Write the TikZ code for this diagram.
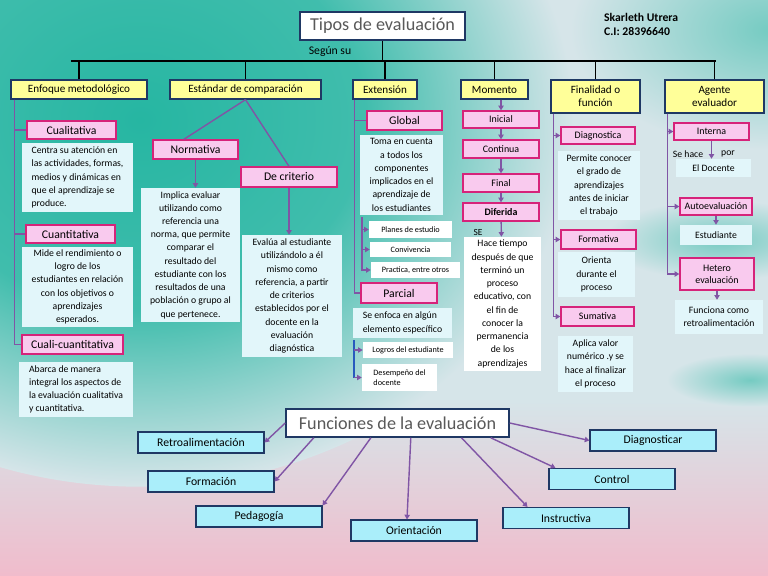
\documentclass[tikz,border=0pt]{standalone}
\usepackage{fontspec}
\setmainfont{Carlito}
\usetikzlibrary{arrows.meta}
\definecolor{navy}{RGB}{31,56,100}
\definecolor{lemon}{RGB}{255,255,153}
\definecolor{rose}{RGB}{214,35,122}
\definecolor{blush}{RGB}{249,202,238}
\definecolor{mist}{RGB}{226,246,250}
\definecolor{sky}{RGB}{170,238,250}
\definecolor{plum}{RGB}{128,85,165}
\definecolor{cobalt}{RGB}{40,90,190}
\definecolor{bgbase}{RGB}{214,229,233}
\definecolor{bgteal}{RGB}{38,182,162}
\definecolor{bgpink}{RGB}{240,188,204}
\pgfdeclareradialshading{tealblob}{\pgfpointorigin}{color(0bp)=(bgteal); color(13bp)=(bgteal!85!bgbase);
  color(25bp)=(bgbase); color(50bp)=(bgbase)}
\pgfdeclareradialshading{tealhaze}{\pgfpointorigin}{color(0bp)=(bgteal!55!bgbase);
  color(25bp)=(bgbase); color(50bp)=(bgbase)}
\tikzset{
  >={Triangle[length=4pt,width=4.5pt]},
  sz/.style 2 args={minimum width=#1*0.03cm,minimum height=#2*0.03cm,inner sep=1pt},
  headbox/.style={draw=navy,fill=lemon,line width=1.1pt,align=center,font=\fontsize{9.5}{11}\selectfont},
  kindbox/.style={draw=rose,fill=blush,line width=1.1pt,align=center,font=\fontsize{10}{11}\selectfont},
  kindbox small/.style={kindbox,font=\fontsize{8.5}{10}\selectfont},
  notebox/.style={fill=mist,align=center,font=\fontsize{8.3}{11.3}\selectfont},
  chipbox/.style={fill=white,align=left,font=\fontsize{7}{9}\selectfont},
  funcbox/.style={draw=navy,fill=sky,line width=0.9pt,font=\fontsize{10}{12}\selectfont,
    minimum width=126*0.03cm,minimum height=21*0.03cm},
  titlebox/.style={draw=navy,fill=white,line width=1.3pt,text=black!65,font=\fontsize{15.5}{18}\selectfont},
  bar/.style={line width=1.4pt,black},
  link/.style={plum,line width=1.2pt},
  flow/.style={link,->},
}
\begin{document}
\begin{tikzpicture}[x=0.03cm,y=-0.03cm]
  % background
  \begin{scope}
    \clip (0,0) rectangle (768,575);
    \fill[bgbase] (0,0) rectangle (768,575);
    \shade[top color=bgbase,bottom color=bgpink] (0,400) rectangle (768,575);
    \shade[shading=tealblob] (140,120) ellipse (13cm and 11cm);
    \shade[shading=tealhaze] (770,30) ellipse (6cm and 3.6cm);
    \shade[shading=tealhaze] (720,240) ellipse (3.5cm and 1.2cm);
    \shade[shading=tealhaze] (750,380) ellipse (2.5cm and 0.8cm);
  \end{scope}
  \useasboundingbox (0,0) rectangle (768,575);

  \node[titlebox,sz={165}{28}] (tipos) at (382.5,26) {Tipos de evaluación};
  \node[font=\fontsize{10}{12}\selectfont\bfseries,align=left,anchor=north west] (autor) at (600,9) {Skarleth Utrera\\C.I: 28396640};
  \node[font=\fontsize{10}{12}\selectfont] (segun) at (330,51) {Según su};
  \coordinate (barL) at (71,61);
  \coordinate (barR) at (716,61);

  % criterios
  \node[headbox,sz={136}{19}] (enfoque) at (79,89.5) {Enfoque metodológico};
  \node[headbox,sz={151}{19}] (estandar) at (245.5,89.5) {Estándar de comparación};
  \node[headbox,sz={64}{19}] (extension) at (385,89.5) {Extensión};
  \node[headbox,sz={67}{19}] (momento) at (494.5,89.5) {Momento};
  \node[headbox,sz={89}{33}] (finalidad) at (595.5,96.5) {Finalidad o\\función};
  \node[headbox,sz={99}{33}] (agente) at (714.5,96.5) {Agente\\evaluador};

  \draw[bar] (barL) -- (barR);
  \draw[bar] (tipos) -- (tipos |- barL);
  \foreach \n in {enfoque,estandar,extension,momento,finalidad,agente}
    \draw[bar] (\n) -- (\n |- barL);

  % enfoque metodologico
  \node[kindbox,sz={89}{18}] (cualit) at (71.5,130) {Cualitativa};
  \node[kindbox,sz={89}{18}] (cuantit) at (70.5,234) {Cuantitativa};
  \node[kindbox,sz={101}{19}] (mixta) at (72.5,344.5) {Cuali-cuantitativa};
  \node[notebox,sz={111}{69},align=left] (dcualit) at (77.5,177.5) {Centra su atención en\\las actividades, formas,\\medios y dinámicas en\\que el aprendizaje se\\produce.};
  \node[notebox,sz={111}{80}] (dcuantit) at (77.5,287) {Mide el rendimiento o\\logro de los\\estudiantes en relación\\con los objetivos o\\aprendizajes\\esperados.};
  \node[notebox,sz={114}{55},align=left] (dmixta) at (76,389.5) {Abarca de manera\\integral los aspectos de\\la evaluación cualitativa\\y cuantitativa.};
  \foreach \n in {cualit,cuantit,mixta}
    \draw[link] ([xshift=3.4pt]enfoque.south west) |- (\n.west);

  % estandar de comparacion
  \node[kindbox,sz={85}{19}] (normativa) at (195.5,149.5) {Normativa};
  \node[kindbox,sz={96}{20}] (criterio) at (289,177) {De criterio};
  \node[notebox,sz={99}{134}] (dnormativa) at (190.5,255) {Implica evaluar\\utilizando como\\referencia una\\norma, que permite\\comparar el\\resultado del\\estudiante con los\\resultados de una\\población o grupo al\\que pertenece.};
  \node[notebox,sz={100}{122}] (dcriterio) at (292,296) {Evalúa al estudiante\\utilizándolo a él\\mismo como\\referencia, a partir\\de criterios\\establecidos por el\\docente en la\\evaluación\\diagnóstica};
  \draw[link] (estandar.south) -- ([xshift=-10pt]normativa.north);
  \draw[link] (estandar.south) -- (criterio.north);
  \draw[flow] (normativa.south) -- (normativa.south |- dnormativa.north);
  \draw[flow] (criterio.south) -- (criterio.south |- dcriterio.north);

  % extension
  \node[kindbox,sz={75}{19}] (global) at (404.5,120.5) {Global};
  \node[kindbox,sz={76}{20}] (parcial) at (399,293) {Parcial};
  \node[notebox,sz={83}{80}] (dglobal) at (401.5,175) {Toma en cuenta\\a todos los\\componentes\\implicados en el\\aprendizaje de\\los estudiantes};
  \node[notebox,sz={99}{30},align=left] (dparcial) at (402.5,323) {Se enfoca en algún\\elemento específico};
  \node[chipbox,sz={83}{17}] (planes) at (410.5,229.5) {Planes de estudio};
  \node[chipbox,sz={81}{15}] (convive) at (410.5,249.5) {Convivencia};
  \node[chipbox,sz={89}{16}] (practica) at (415.5,270) {Practica, entre otros};
  \node[chipbox,sz={90}{16}] (logros) at (408,350) {Logros del estudiante};
  \node[chipbox,sz={75}{27}] (desemp) at (399.5,377.5) {Desempeño del\\docente};
  \draw[link] ([xshift=1.7pt]extension.south west) |- (global.west);
  \draw[link] ([xshift=1.7pt]extension.south west) |- (parcial.west);
  \coordinate (gsub) at (362,217);
  \foreach \n in {planes,convive,practica}
    \draw[flow] (gsub) |- (\n.west);
  \coordinate (psub) at (354,340);
  \draw[cobalt,line width=1.2pt] (psub) -- (psub |- desemp.west);
  \draw[flow] (psub |- logros.west) -- (logros.west);
  \draw[flow] (psub |- desemp.west) -- (desemp.west);

  % momento
  \node[kindbox small,sz={76}{17}] (inicial) at (501,119.5) {Inicial};
  \node[kindbox small,sz={76}{18}] (continua) at (501,149) {Continua};
  \node[kindbox small,sz={76}{18}] (final) at (501,183) {Final};
  \node[kindbox small,sz={76}{18},font=\fontsize{8.5}{10}\selectfont\bfseries] (diferida) at (501,212) {Diferida};
  \node[notebox,fill=white,sz={77}{134}] (ddiferida) at (502.5,304) {Hace tiempo\\después de que\\terminó un\\proceso\\educativo, con\\el fin de\\conocer la\\permanencia\\de los\\aprendizajes};
  \node[font=\fontsize{8}{10}\selectfont] (se) at (478,232) {SE};
  \draw[flow] (inicial.north |- momento.south) -- (inicial);
  \draw[flow] (inicial) -- (continua);
  \draw[flow] (continua) -- (final);
  \draw[flow] (final) -- (diferida);
  \draw[flow] (diferida) -- (ddiferida);

  % finalidad o funcion
  \node[kindbox small,sz={74}{17}] (diagn) at (598,135.5) {Diagnostica};
  \node[kindbox small,sz={75}{19}] (formativa) at (598.5,239.5) {Formativa};
  \node[kindbox small,sz={73}{19}] (sumativa) at (597.5,316.5) {Sumativa};
  \node[notebox,sz={82}{69}] (ddiagn) at (599,185.5) {Permite conocer\\el grado de\\aprendizajes\\antes de iniciar\\el trabajo};
  \node[notebox,sz={77}{45}] (dformativa) at (596.5,274.5) {Orienta\\durante el\\proceso};
  \node[notebox,sz={75}{56}] (dsumativa) at (595.5,364) {Aplica valor\\numérico .y se\\hace al finalizar\\el proceso};
  \foreach \n in {diagn,formativa,sumativa}
    \draw[flow] ([xshift=2.6pt]finalidad.south west) |- (\n.west);

  % agente evaluador
  \node[kindbox small,sz={75}{17}] (interna) at (711.5,131.5) {Interna};
  \node[kindbox small,sz={72}{17}] (autoeval) at (716,206.5) {Autoevaluación};
  \node[kindbox small,sz={74}{32}] (hetero) at (717,274) {Hetero\\evaluación};
  \node[notebox,sz={75}{18}] (docente) at (713.5,168) {El Docente};
  \node[notebox,sz={72}{20}] (estud) at (716,235) {Estudiante};
  \node[notebox,sz={88}{34}] (dhetero) at (719,317) {Funciona como\\retroalimentación};
  \node[font=\fontsize{8.3}{10}\selectfont] (sehace) at (688,154) {Se hace};
  \node[font=\fontsize{8.3}{10}\selectfont] (por) at (728,154) {por};
  \foreach \n in {interna,autoeval,hetero}
    \draw[flow] ([xshift=2.6pt]agente.south west) |- (\n.west);
  \draw[flow] (interna.south) -- (interna.south |- docente.north);
  \draw[flow] (autoeval.south) -- (autoeval.south |- estud.north);
  \draw[flow] (hetero.south) -- (hetero.south |- dhetero.north);

  % funciones de la evaluacion
  \node[titlebox,sz={223}{28}] (funciones) at (397.5,423) {Funciones de la evaluación};
  \node[funcbox] (retro) at (201,442.5) {Retroalimentación};
  \node[funcbox] (formacion) at (211,481.5) {Formación};
  \node[funcbox] (pedagogia) at (259,516.5) {Pedagogía};
  \node[funcbox] (orienta) at (414,530.5) {Orientación};
  \node[funcbox] (instruct) at (566,518) {Instructiva};
  \node[funcbox] (control) at (612,479) {Control};
  \node[funcbox] (diagnos) at (653,440.5) {Diagnosticar};
  \draw[flow] (funciones.west) -- (retro.east);
  \draw[flow] (funciones.190) -- (formacion.east);
  \draw[flow] (funciones.209) -- (pedagogia.north east);
  \draw[flow] (funciones.312) -- ([xshift=-6pt]orienta.north);
  \draw[flow] (funciones.347) -- (instruct.164);
  \draw[flow] (funciones.351) -- ([xshift=6pt]control.north west);
  \draw[flow] (funciones.east) -- (diagnos.west);
\end{tikzpicture}
\end{document}
